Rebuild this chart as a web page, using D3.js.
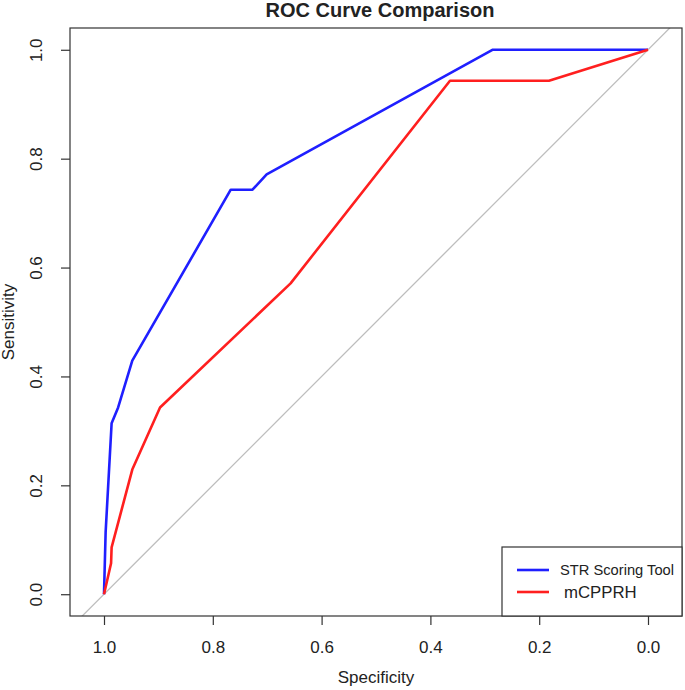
<!DOCTYPE html>
<html>
<head>
<meta charset="utf-8">
<script src="https://cdn.jsdelivr.net/npm/d3@7"></script>
<style>
  body { margin: 0; background: #fff; }
  text { font-family: "Liberation Sans", Arial, sans-serif; fill: #222; }
</style>
</head>
<body>
<div id="chart"></div>
<script>
// ROC curves, specificity on a reversed x axis
var strSpec = [1, 0.997, 0.986, 0.974, 0.948, 0.767, 0.727, 0.701, 0.286, 0];
var strSens = [0, 0.114, 0.314, 0.343, 0.429, 0.743, 0.743, 0.771, 1, 1];
var mcpSpec = [1, 0.987, 0.986, 0.948, 0.897, 0.657, 0.364, 0.182, 0];
var mcpSens = [0, 0.057, 0.086, 0.229, 0.343, 0.571, 0.943, 0.943, 1];
var tickVals = [1.0, 0.8, 0.6, 0.4, 0.2, 0.0];
var seriesNames = ["STR Scoring Tool", "mCPPRH"];
var seriesColors = ["#1f1fff", "#ff1f1f"];

var W = 685, H = 690;
var pLeft = 70, pRight = 682, pTop = 28, pBottom = 616;

var svg = d3.select("#chart").append("svg")
  .attr("width", W)
  .attr("height", H);

var x = d3.scaleLinear().domain([1.0625, -0.0625]).range([pLeft, pRight]);
var y = d3.scaleLinear().domain([-0.04, 1.04]).range([pBottom, pTop]);

// clip for plot region
svg.append("clipPath").attr("id", "clip")
  .append("rect")
  .attr("x", pLeft).attr("y", pTop)
  .attr("width", pRight - pLeft).attr("height", pBottom - pTop);

var plot = svg.append("g").attr("clip-path", "url(#clip)");

// chance diagonal
plot.append("line")
  .attr("x1", x(1.1)).attr("y1", y(-0.1))
  .attr("x2", x(-0.1)).attr("y2", y(1.1))
  .attr("stroke", "#bdbdbd")
  .attr("stroke-width", 1.3);

var line = d3.line()
  .x(function(d) { return x(d[0]); })
  .y(function(d) { return y(d[1]); });

var series = [d3.zip(strSpec, strSens), d3.zip(mcpSpec, mcpSens)];

plot.selectAll("path.roc")
  .data(series)
  .enter()
  .append("path")
  .attr("class", "roc")
  .attr("d", line)
  .attr("fill", "none")
  .attr("stroke", function(d, i) { return seriesColors[i]; })
  .attr("stroke-width", 2.6)
  .attr("stroke-linejoin", "round");

// box
svg.append("rect")
  .attr("x", pLeft).attr("y", pTop)
  .attr("width", pRight - pLeft).attr("height", pBottom - pTop)
  .attr("fill", "none")
  .attr("stroke", "#333")
  .attr("stroke-width", 1.2);

// axes
var xAxis = svg.append("g")
  .attr("transform", "translate(0," + pBottom + ")")
  .call(d3.axisBottom(x).tickValues(tickVals).tickFormat(d3.format(".1f")).tickSize(9).tickPadding(16));
var yAxis = svg.append("g")
  .attr("transform", "translate(" + pLeft + ",0)")
  .call(d3.axisLeft(y).tickValues(tickVals).tickFormat(d3.format(".1f")).tickSize(9).tickPadding(0));

[xAxis, yAxis].forEach(function(g) {
  g.select(".domain").remove();
  g.selectAll(".tick line").attr("stroke", "#333").attr("stroke-width", 1.2);
  g.selectAll(".tick text")
    .style("font-family", "Liberation Sans, Arial, sans-serif")
    .style("font-size", "17px")
    .attr("fill", "#222");
});

yAxis.selectAll(".tick text")
  .attr("x", 0).attr("dy", 0)
  .attr("text-anchor", "middle")
  .attr("transform", "translate(-34,0) rotate(-90) translate(0,6)");

// titles
svg.append("text")
  .attr("x", (pLeft + pRight) / 2 + 4)
  .attr("y", 17)
  .attr("text-anchor", "middle")
  .style("font-size", "20px")
  .style("font-weight", "bold")
  .text("ROC Curve Comparison");

svg.append("text")
  .attr("x", 376)
  .attr("y", 683)
  .attr("text-anchor", "middle")
  .style("font-size", "17px")
  .text("Specificity");

svg.append("text")
  .attr("transform", "translate(14,322) rotate(-90)")
  .attr("text-anchor", "middle")
  .style("font-size", "17px")
  .text("Sensitivity");

// legend
var lg = svg.append("g");
lg.append("rect")
  .attr("x", 502).attr("y", 547)
  .attr("width", pRight - 502).attr("height", pBottom - 547)
  .attr("fill", "#fff")
  .attr("stroke", "#333")
  .attr("stroke-width", 1.2);

var items = lg.selectAll("g.item")
  .data(seriesNames)
  .enter()
  .append("g")
  .attr("transform", function(d, i) { return "translate(0," + (570 + i * 22) + ")"; });

items.append("line")
  .attr("x1", 517).attr("x2", 549)
  .attr("stroke", function(d, i) { return seriesColors[i]; })
  .attr("stroke-width", 2.6);

items.append("text")
  .attr("x", function(d, i) { return i === 0 ? 560 : 564; })
  .attr("dy", "0.35em")
  .style("font-size", function(d, i) { return i === 0 ? "14.7px" : "16.8px"; })
  .text(function(d) { return d; });
</script>
</body>
</html>
